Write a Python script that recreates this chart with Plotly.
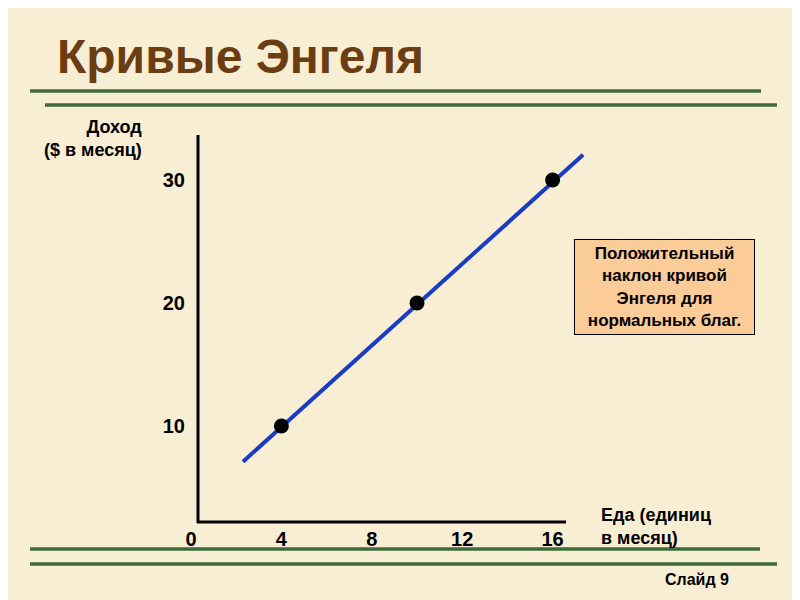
import plotly.graph_objects as go

# Engel curve (food vs income)
food = [4, 10, 16]
income = [10, 20, 30]
curve_food = [2.3, 17.35]
curve_income = [7.1, 32.05]

x_ticks = [0, 4, 8, 12, 16]
y_ticks = [10, 20, 30]

BG = "#F8EED3"
GREEN = "#3F6A3A"
BROWN = "#6B3D12"
BLUE = "#1A3CC4"
FONT = "Liberation Sans, Arial, sans-serif"

# the page body adds an 8px offset, so the figure is drawn 8px smaller
# and all target pixel positions are shifted by that offset
OFF = 8
W, H = 800 - OFF, 600 - OFF
x0_px, x_scale = 191 - OFF, 22.6
y10_px, y_scale = 426 - OFF, 12.3
x_range = [-x0_px / x_scale, (W - x0_px) / x_scale]
y_range = [10 - (H - y10_px) / y_scale, 10 + y10_px / y_scale]


def px(x):
    return (x - OFF) / W


def py(y):
    return 1 - (y - OFF) / H


fig = go.Figure()

fig.add_trace(go.Scatter(
    x=curve_food, y=curve_income, mode="lines",
    line=dict(color=BLUE, width=4), hoverinfo="skip", showlegend=False,
))
fig.add_trace(go.Scatter(
    x=food, y=income, mode="markers",
    marker=dict(color="black", size=15), showlegend=False,
))

shapes = []
# green separator lines
for y0, xa, xb in [(91, 30, 761), (105, 45, 777), (549, 30, 760), (564, 30, 777)]:
    shapes.append(dict(type="line", xref="paper", yref="paper",
                       x0=px(xa), x1=px(xb), y0=py(y0), y1=py(y0),
                       line=dict(color=GREEN, width=3.5)))
# axis lines
shapes.append(dict(type="line", xref="paper", yref="paper",
                   x0=px(198), x1=px(198), y0=py(135), y1=py(523),
                   line=dict(color="black", width=3)))
shapes.append(dict(type="line", xref="paper", yref="paper",
                   x0=px(197), x1=px(566), y0=py(522), y1=py(522),
                   line=dict(color="black", width=3)))

annotations = [
    dict(text="<b>Кривые Энгеля</b>", x=px(55), y=py(56), xanchor="left", yanchor="middle",
         font=dict(family=FONT, size=48, color=BROWN)),
    dict(text="<b>Доход<br>($ в месяц)</b>", x=px(144), y=py(138), xanchor="right",
         yanchor="middle", align="right",
         font=dict(family=FONT, size=18, color="black")),
    dict(text="<b>Еда (единиц<br>в месяц)</b>", x=px(599), y=py(526), xanchor="left",
         yanchor="middle", align="left",
         font=dict(family=FONT, size=18, color="black")),
    dict(text="<b>Слайд 9</b>", x=px(731), y=py(579), xanchor="right", yanchor="middle",
         font=dict(family=FONT, size=16, color="black")),
    dict(text="<b>Положительный<br>наклон кривой<br>Энгеля для<br>нормальных благ.</b>",
         x=px(664), y=py(287), xanchor="center", yanchor="middle", align="center",
         font=dict(family=FONT, size=17, color="black"),
         bgcolor="#FBCB98", bordercolor="black", borderwidth=1,
         borderpad=3, width=173, height=88),
]
for a in annotations:
    a.update(xref="paper", yref="paper", showarrow=False)

tick_font = dict(family=FONT, size=20, color="black", weight="bold")

fig.update_layout(
    width=W, height=H,
    margin=dict(l=0, r=0, t=0, b=0),
    paper_bgcolor=BG, plot_bgcolor=BG,
    shapes=shapes, annotations=annotations,
    xaxis=dict(range=x_range, showgrid=False, zeroline=False, showline=False,
               tickvals=x_ticks, ticktext=[str(v) for v in x_ticks],
               anchor="free", position=py(522), side="bottom",
               ticks="", ticklabelstandoff=3, tickfont=tick_font),
    yaxis=dict(range=y_range, showgrid=False, zeroline=False, showline=False,
               tickvals=y_ticks, ticktext=[str(v) for v in y_ticks],
               anchor="free", position=px(198), side="left",
               ticks="", ticklabelstandoff=13, tickfont=tick_font),
)

fig.write_html("out.html")
